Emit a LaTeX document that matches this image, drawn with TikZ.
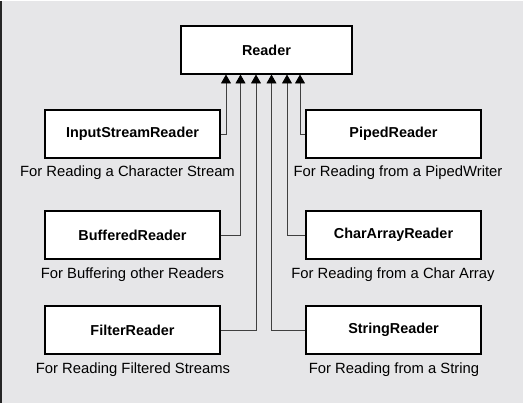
\documentclass[tikz,border=0pt]{standalone}
\usepackage{fontspec}
\setmainfont{Liberation Sans}
\usetikzlibrary{arrows.meta}
\definecolor{panelgrey}{RGB}{230,230,232}
\tikzset{
  classbox/.style={draw=black, fill=white, line width=1.1pt, minimum width=175pt,
    minimum height=48pt, inner sep=0pt, font=\fontsize{14.4}{16}\selectfont\bfseries},
  caption/.style={anchor=base, font=\fontsize{14.8}{17}\selectfont},
  inherit/.style={draw=black!75, line width=0.9pt,
    -{Triangle[width=10pt,length=9pt,color=black,fill=black]}},
}
\begin{document}
\begin{tikzpicture}[x=1pt,y=-1pt]
  % panel
  \fill[panelgrey] (0,0) rectangle (523,402);
  \draw[black!85, line width=2pt] (1,0) -- (1,402);
  \useasboundingbox (0,0) rectangle (523,402);

  % base class
  \node[classbox, minimum width=171pt] (reader) at (266.5,49) {Reader};

  % left column
  \node[classbox] (isr) at (132.5,133) {InputStreamReader};
  \node[classbox] (buf) at (132.5,234) {BufferedReader};
  \node[classbox] (fil) at (132.5,329) {FilterReader};
  \node[caption] (isrnote) at (127.5,176) {For Reading a Character Stream};
  \node[caption] (bufnote) at (132.5,277) {For Buffering other Readers};
  \node[caption] (filnote) at (133,372) {For Reading Filtered Streams};

  % right column
  \node[classbox] (pip) at (393.5,133) {PipedReader};
  \node[classbox] (chr) at (393.5,234) {CharArrayReader};
  \node[classbox] (str) at (393.5,329) {StringReader};
  \node[caption] (pipnote) at (398,176) {For Reading from a PipedWriter};
  \node[caption] (chrnote) at (393,277) {For Reading from a Char Array};
  \node[caption] (strnote) at (394,372) {For Reading from a String};

  % arrow ends under Reader
  \coordinate (tisr) at (226,73.5);
  \coordinate (tbuf) at (240.5,73.5);
  \coordinate (tfil) at (256,73.5);
  \coordinate (tstr) at (271.5,73.5);
  \coordinate (tchr) at (287,73.5);
  \coordinate (tpip) at (300,73.5);

  \draw[inherit] (isr.east) -| (tisr);
  \draw[inherit] (buf.east) -| (tbuf);
  \draw[inherit] (fil.east) -| (tfil);
  \draw[inherit] (str.west) -| (tstr);
  \draw[inherit] (chr.west) -| (tchr);
  \draw[inherit] (pip.west) -| (tpip);
\end{tikzpicture}
\end{document}
